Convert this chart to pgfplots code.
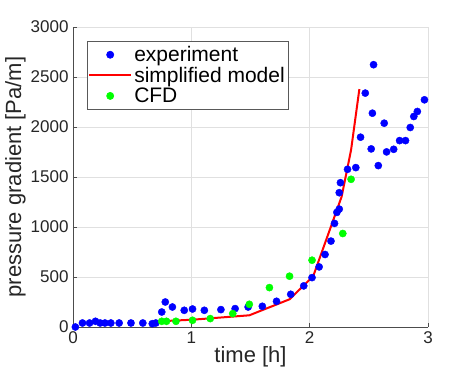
\documentclass[border=0pt]{standalone}
\usepackage{fontspec}
\setmainfont{Liberation Sans}
\usepackage{pgfplots}
\pgfplotsset{compat=1.18}
\pgfplotstableread{
x y
0.02 0
0.08 40
0.14 40
0.19 57
0.23 40
0.27 40
0.32 40
0.39 40
0.49 40
0.59 40
0.67 33
0.70 40
0.75 150
0.78 250
0.84 200
0.94 167
1.01 180
1.11 167
1.25 174
1.37 184
1.48 200
1.60 207
1.72 257
1.84 327
1.95 411
2.02 494
2.08 601
2.13 725
2.18 859
2.21 1036
2.23 1146
2.25 1179
2.25 1343
2.26 1443
2.32 1577
2.39 1594
2.43 1898
2.47 2339
2.54 2623
2.53 2138
2.52 1781
2.58 1614
2.63 2038
2.65 1751
2.71 1777
2.76 1864
2.81 1864
2.85 1995
2.88 2105
2.91 2155
2.97 2272
}\expdata
\pgfplotstableread{
x y
0.73 57
1.01 73
1.49 117
1.83 277
2.03 508
2.27 1303
2.35 1771
2.42 2379
}\modeldata
\pgfplotstableread{
x y
0.75 57
0.79 57
0.87 57
1.01 67
1.16 84
1.35 134
1.49 227
1.66 394
1.83 508
2.02 668
2.28 935
2.35 1477
}\cfddata
\begin{document}
\begin{tikzpicture}
\useasboundingbox (-73pt,-48pt) rectangle (401pt,327pt);
\begin{axis}[
  scale only axis,
  width=355pt, height=300pt,
  xmin=0, xmax=3, ymin=0, ymax=3000,
  xtick={0,1,2,3}, ytick={0,500,...,3000},
  axis lines=left,
  axis line style={-, draw=black!70, line width=0.5pt},
  tick style={draw=black!70, line width=0.5pt},
  tick align=inside,
  major tick length=4pt,
  grid=major,
  major grid style={draw=black!12, line width=0.5pt},
  /pgf/number format/assume math mode=true,
  /pgf/number format/1000 sep={},
  tick label style={font=\fontsize{17}{17}\selectfont, text=black!85},
  xticklabel style={yshift=-1pt},
  yticklabel style={xshift=-1pt},
  label style={font=\fontsize{22}{22}\selectfont, text=black!85},
  xlabel={time [h]},
  ylabel={pressure gradient [Pa/m]},
  xlabel style={yshift=4pt},
  ylabel style={yshift=-2pt},
  legend style={at={(0.039,0.953)}, anchor=north west,
    font=\fontsize{21}{21}\selectfont, draw=black!65, line width=0.6pt,
    inner xsep=1pt, inner ysep=3pt, row sep=0pt, cells={anchor=west}},
  legend image code/.code={\draw[mark repeat=2,mark phase=2,#1] plot coordinates {(0cm,0cm) (0.74cm,0cm) (1.48cm,0cm)};},
]
\addplot[only marks, mark=*, mark size=3.6pt, draw=blue, fill=blue] table[x=x,y=y] {\expdata};
\addlegendentry{experiment}
\addplot[red, line width=2pt, no marks] table[x=x,y=y] {\modeldata};
\addlegendentry{simplified model}
\addplot[only marks, mark=*, mark size=3.6pt, draw=green, fill=green] table[x=x,y=y] {\cfddata};
\addlegendentry{CFD}
\end{axis}
\end{tikzpicture}
\end{document}
